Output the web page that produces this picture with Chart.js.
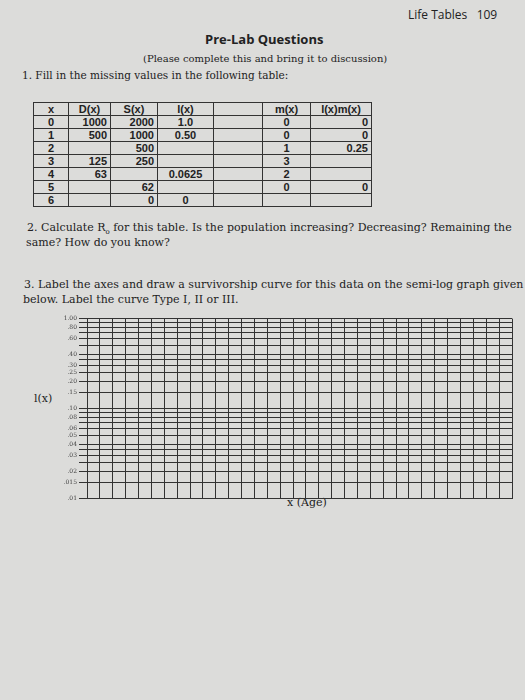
<!DOCTYPE html>
<html><head><meta charset="utf-8">
<script src="https://cdn.jsdelivr.net/npm/chart.js@4"></script>
<style>
body{margin:0;width:525px;height:700px;background:#dcdcda;font-family:"DejaVu Serif",serif;color:#222;position:relative;overflow:hidden}
.a{position:absolute;white-space:nowrap}
.q{font-size:11px}
table{border-collapse:collapse;font-family:"Liberation Sans",Arial,sans-serif;font-weight:bold;font-size:11px;position:absolute;left:33px;top:102px}
td{border:1px solid #333;height:12px;padding:0 3px;text-align:right;line-height:12px}
td.c{text-align:center}
</style></head><body>
<div class="a" style="left:408px;top:6px;font:12px 'Open Sans',sans-serif">Life Tables&nbsp;&nbsp;&nbsp;109</div>
<div class="a" style="left:205px;top:30px;font:bold 13px 'Open Sans',sans-serif">Pre-Lab Questions</div>
<div class="a" style="left:143px;top:53px;font-size:10px">(Please complete this and bring it to discussion)</div>
<div class="a q" style="left:22px;top:69px;font-size:10.5px">1. Fill in the missing values in the following table:</div>
<table id="tbl"></table>
<div class="a q" style="left:27px;top:221px">2. Calculate R<sub style="font-size:7px">o</sub> for this table. Is the population increasing? Decreasing? Remaining the</div>
<div class="a q" style="left:26px;top:236px">same? How do you know?</div>
<div class="a q" style="left:24px;top:278px">3. Label the axes and draw a survivorship curve for this data on the semi-log graph given</div>
<div class="a q" style="left:23px;top:293px">below. Label the curve Type I, II or III.</div>
<div class="a" style="left:34px;top:392px;font-size:11px">l(x)</div>
<div class="a" style="left:287px;top:496px;font-size:11px">x (Age)</div>
<div class="a" style="left:50px;top:313px;width:464px;height:191px"><canvas id="chart"></canvas></div>
<script>
const headers = ['x', 'D(x)', 'S(x)', 'l(x)', '', 'm(x)', 'l(x)m(x)'];
const xCol = ['0', '1', '2', '3', '4', '5', '6'];
const dCol = ['1000', '500', '', '125', '63', '', ''];
const sCol = ['2000', '1000', '500', '250', '', '62', '0'];
const lCol = ['1.0', '0.50', '', '', '0.0625', '', '0'];
const mCol = ['0', '0', '1', '3', '2', '0', ''];
const lmCol = ['0', '0', '0.25', '', '', '0', ''];
const colW = [28, 35, 40, 49, 42, 41, 54];

const yTicks = [1.00, 0.80, 0.60, 0.40, 0.30, 0.25, 0.20, 0.15, 0.10, 0.08, 0.06, 0.05, 0.04, 0.03, 0.02, 0.015, 0.01];
const yLabels = ['1.00', '.80', '.60', '.40', '.30', '.25', '.20', '.15', '.10', '.08', '.06', '.05', '.04', '.03', '.02', '.015', '.01'];
const yGrid = [0.9, 0.7, 0.5, 0.35, 0.09, 0.07, 0.035, 0.025];
const xMax = 33;

const tbl = document.getElementById('tbl');
let h = '<tr>' + headers.map((t, i) => `<td class="c" style="width:${colW[i]}px">${t}</td>`).join('') + '</tr>';
xCol.forEach((x, r) => {
  h += `<tr><td class="c">${x}</td><td>${dCol[r]}</td><td>${sCol[r]}</td><td class="c">${lCol[r]}</td><td></td><td class="c">${mCol[r]}</td><td>${lmCol[r]}</td></tr>`;
});
tbl.innerHTML = h;

new Chart(document.getElementById('chart'), {
  type: 'scatter',
  data: { datasets: [{ data: [] }] },
  options: {
    responsive: true, maintainAspectRatio: false, animation: false,
    plugins: { legend: { display: false }, tooltip: { enabled: false } },
    layout: { padding: { right: 2, top: 4, bottom: 3 } },
    scales: {
      x: {
        type: 'linear', min: 0, max: xMax,
        ticks: { stepSize: 1, display: false },
        grid: { color: '#333', lineWidth: 1, tickLength: 0 },
        border: { color: '#333' },
        afterFit: ax => { ax.height = 0; }
      },
      y: {
        type: 'logarithmic', min: 0.01, max: 1,
        afterBuildTicks: ax => { ax.ticks = yTicks.concat(yGrid).map(v => ({ value: v })); },
        afterFit: ax => { ax.width = 37; },
        ticks: {
          autoSkip: false, padding: 2, font: { family: 'DejaVu Serif', size: 6 }, color: '#444',
          callback: v => { const i = yTicks.indexOf(v); return i >= 0 ? yLabels[i] : ''; }
        },
        grid: { color: '#333', lineWidth: 1, tickLength: 8 },
        border: { color: '#333' }
      }
    }
  }
});
</script>
</body></html>
